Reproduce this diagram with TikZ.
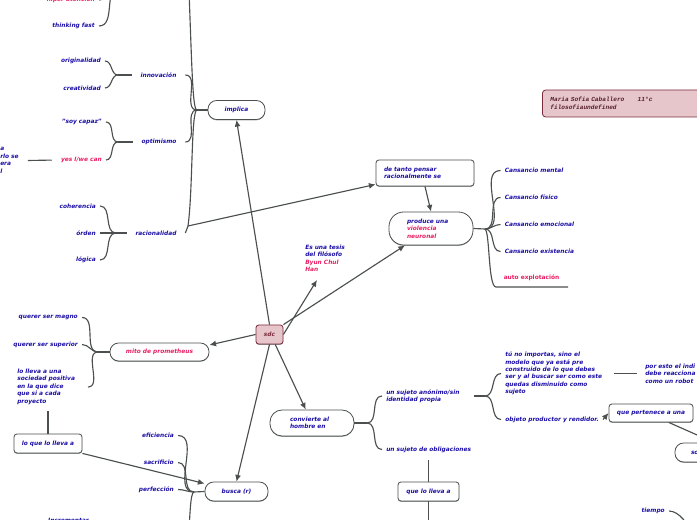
\documentclass[tikz,border=0pt]{standalone}
\usepackage{fontspec}
\setmainfont{DejaVu Sans}
\newfontfamily\notefont{Liberation Mono}
\usetikzlibrary{arrows.meta,shadows}
\definecolor{bluetxt}{HTML}{1B0EA5}
\definecolor{pinktxt}{HTML}{EA1E63}
\definecolor{linecol}{HTML}{4B4F4F}
\definecolor{rosefill}{HTML}{E6C6CB}
\definecolor{roseline}{HTML}{7B2B3B}
\tikzset{
  lbl/.style={font=\fontsize{4.4}{5.6}\selectfont\bfseries\itshape,text=bluetxt,inner xsep=3pt,inner ysep=1pt,align=left},
  pinklbl/.style={lbl,text=pinktxt},
  parentlbl/.style={lbl,inner xsep=6.5pt},
  boxed/.style={lbl,draw=linecol,fill=white,line width=.6pt,drop shadow={shadow xshift=0pt,shadow yshift=-.6pt,fill=linecol!70,opacity=.8}},
  squarebox/.style={boxed,rounded corners=2.2pt},
  roundbox/.style={boxed,rounded corners=6.5pt},
  branch/.style={draw=linecol,line width=.85pt},
  conn/.style={draw=linecol,line width=.85pt,-{Latex[length=5pt,width=4.5pt]}}
}
\begin{document}
\begin{tikzpicture}[x=.75pt,y=-.75pt]
\useasboundingbox (0,0) rectangle (697,520);
\clip (0,0) rectangle (697,520);
% central node
\node[boxed,rounded corners=2pt,draw=roseline,fill=rosefill,text=roseline,minimum width=20.25pt,minimum height=14.25pt,inner sep=0pt,align=center] (sdc) at (269.5,334.5) {sdc};
\node[roundbox,minimum width=42.75pt,minimum height=14.25pt,inner sep=0pt,align=center] (implica) at (236.5,110) {implica};
\node[roundbox,text=pinktxt,minimum width=74.25pt,minimum height=13.5pt,inner sep=0pt,align=center] (mito) at (159.5,352) {mito de prometheus};
\node[roundbox,minimum width=47.25pt,minimum height=14.25pt,inner sep=0pt,align=center] (busca) at (236.5,491.5) {busca (r)};
\node[roundbox,rounded corners=9pt,inner xsep=15pt,text width=33pt,minimum height=19.5pt,inner ysep=0pt] (convierte) at (312,423) {convierte al\\hombre en};
\node[roundbox,rounded corners=11pt,inner xsep=13.5pt,text width=36pt,minimum height=24.75pt,inner ysep=0pt] (produce) at (431,228.5) {produce una\\\textcolor{pinktxt}{violencia}\\\textcolor{pinktxt}{neuronal}};
\node[squarebox,inner xsep=6pt,text width=61.5pt,minimum height=19.5pt,inner ysep=0pt] (tanto) at (425,173) {de tanto pensar\\racionalmente se};
\node[squarebox,minimum width=51pt,minimum height=14.25pt,inner sep=0pt,align=center] (loque) at (48,443.5) {lo que lo lleva a};
\node[squarebox,minimum width=45.75pt,minimum height=14.25pt,inner sep=0pt,align=center] (quelo) at (428.5,491.5) {que lo lleva a};
\node[squarebox,minimum width=63pt,minimum height=13.5pt,inner sep=0pt,align=center] (pertenece) at (651,413) {que pertenece a una};
\node[roundbox,minimum width=67.5pt,minimum height=14.25pt,inner xsep=12pt,inner ysep=0pt,text width=43.5pt] (socied) at (720,452.5) {so};
% note
\node[draw=roseline,fill=rosefill,line width=.6pt,rounded corners=2.5pt,anchor=west,minimum width=150pt,minimum height=20.25pt,inner xsep=6pt,inner ysep=0pt,text width=138pt,align=left,font=\notefont\fontsize{4.6}{6}\selectfont\bfseries\itshape,text=roseline!70!black] (nota) at (542,103.5) {Maria Sofia Caballero\hspace{10pt}11°c\\filosofiaundefined};
% labels left of implica
\node[pinklbl,anchor=east] (hiper) at (99,0) {hiper atención};
\node[lbl,anchor=east] (thinking) at (99,26) {thinking fast};
\node[lbl,anchor=east] (original) at (105,61) {originalidad};
\node[lbl,anchor=east] (creativ) at (105,88) {creatividad};
\node[parentlbl] (innova) at (158.5,75) {innovación};
\node[lbl,anchor=east] (capaz) at (106,122) {"soy capaz"};
\node[pinklbl,anchor=east] (yes) at (106,160) {yes I/we can};
\node[parentlbl] (optimo) at (159,142) {optimismo};
\node[lbl,anchor=west,inner xsep=0pt] (frag) at (0,160.5) {a\\rlo se\\era\\l};
\node[lbl,anchor=east] (coher) at (100,206) {coherencia};
\node[lbl,anchor=east] (orden) at (100,233) {órden};
\node[lbl,anchor=east] (logica) at (100,260) {lógica};
\node[parentlbl] (racio) at (156,233) {racionalidad};
% labels round mito
\node[lbl,anchor=east] (magno) at (82,317.5) {querer ser magno};
\node[lbl,anchor=east] (superior) at (82,344.5) {querer ser superior};
\node[lbl,anchor=west,inner xsep=0pt] (lleva) at (17,386.5) {lo lleva a una\\sociedad positiva\\en la que dice\\que si a cada\\proyecto};
% labels round busca
\node[lbl,anchor=east] (eficien) at (178,435.5) {eficiencia};
\node[lbl,anchor=east] (sacri) at (178,462.5) {sacrificio};
\node[lbl,anchor=east] (perfec) at (178,489.5) {perfección};
\node[lbl,anchor=east] (increm) at (93,520) {Incrementar};
% labels on the right
\node[lbl,anchor=west,inner xsep=0pt] (tesis) at (305,258.5) {Es una tesis\\del filósofo\\\textcolor{pinktxt}{Byun Chul}\\\textcolor{pinktxt}{Han}};
\node[lbl,anchor=west] (mental) at (500.5,170.5) {Cansancio mental};
\node[lbl,anchor=west] (fisico) at (500.5,197.5) {Cansancio físico};
\node[lbl,anchor=west] (emocion) at (500.5,224.5) {Cansancio emocional};
\node[lbl,anchor=west] (exist) at (500.5,251.5) {Cansancio existencia};
\node[pinklbl,anchor=west,font=\fontsize{4.4}{5.6}\selectfont\bfseries] (auto) at (499.5,277.5) {auto explotación};
\node[lbl,anchor=west] (anonimo) at (382,396) {un sujeto anónimo/sin\\identidad propia};
\node[lbl,anchor=west] (obliga) at (382,449.5) {un sujeto de obligaciones};
\node[lbl,anchor=west] (importas) at (501,373.5) {tú no importas, sino el\\modelo que ya está pre\\construido de lo que debes\\ser y al buscar ser como este\\quedas disminuido como\\sujeto};
\node[lbl,anchor=west] (objeto) at (501,419.5) {objeto productor y rendidor.};
\node[lbl,anchor=west,inner xsep=6pt] (robot) at (637,373.5) {por esto el indi\\debe reacciona\\como un robot};
\node[lbl,anchor=east] (tiempo) at (669,511) {tiempo};
% free ends
\coordinate (velocidad) at (187,-60);
\coordinate (topj) at (120,-13);
\coordinate (racioend) at (188,226);
\coordinate (tesisend) at (317,280);
\coordinate (buscaend) at (188,545);
\coordinate (quelofin) at (428.5,530);
\coordinate (autoend) at (568,287);
\coordinate (llevaend) at (88,387);
\coordinate (tiempoj) at (690,535);
% arrows from sdc
\draw[conn] (sdc.north) -- (implica.south);
\draw[conn] (sdc.north east) -- (produce.213);
\draw[conn] (sdc.east) -- (tesisend);
\draw[conn] (sdc.west) -- (mito.8);
\draw[conn] (sdc.south) -- (busca.north);
\draw[conn] (sdc.-60) -- (convierte.115);
\draw[conn] (racioend) -- (tanto.193);
\draw[conn] (tanto.south) -- (produce.north);
\draw[conn] (loque.south east) -- (busca.166);
\draw[conn] (objeto.east) -- (pertenece.west);
% plain lines
\draw[branch,shorten >=3.75pt] (frag.east) ++(9,0) -- (yes.west);
\draw[branch,shorten <=4pt] (lleva.south -| loque.north) -- (loque.north);
\draw[branch,shorten <=4.5pt] (obliga.south -| quelo.north) -- (quelo.north);
\draw[branch] (quelo.south) -- (quelofin);
\draw[branch] (importas.east) ++(8,0) -- (robot.west);
\draw[branch] (pertenece.-28) -- (socied.120);
% brackets
\coordinate (impj) at (197,110);
\draw[branch] (implica.west) -- (impj);
\foreach \k in {innova,optimo} \draw[branch] (impj) to[out=180,in=0] (\k.east);
\draw[branch] (impj) .. controls (192,110) and (192,60) .. (velocidad);
\draw[branch] (impj) .. controls (191,110) and (193,190) .. (racioend) -- (racio.east);
\foreach \k in {hiper,thinking} \draw[branch] (topj) to[out=180,in=0] (\k.east);
\coordinate (innj) at (118,75);
\draw[branch] (innova.west) -- (innj);
\foreach \k in {original,creativ} \draw[branch] (innj) to[out=180,in=0] (\k.east);
\coordinate (optj) at (118,142);
\draw[branch] (optimo.west) -- (optj);
\foreach \k in {capaz,yes} \draw[branch] (optj) to[out=180,in=0] (\k.east);
\coordinate (racj) at (116,233);
\draw[branch] (racio.west) -- (orden.east);
\foreach \k in {coher,logica} \draw[branch] (racj) to[out=180,in=0] (\k.east);
\coordinate (mitj) at (98,352);
\draw[branch] (mito.west) -- (mitj);
\foreach \k in {magno,superior} \draw[branch] (mitj) to[out=180,in=0] (\k.east);
\draw[branch] (mitj) to[out=180,in=0] (llevaend);
\coordinate (busj) at (194,492);
\draw[branch] (busca.west) -- (busj);
\foreach \k in {eficien,sacri,perfec} \draw[branch] (busj) to[out=180,in=0] (\k.east);
\draw[branch] (busj) .. controls (190,492) and (190,520) .. (buscaend);
\coordinate (proj) at (485,229);
\draw[branch] (produce.east) -- (proj);
\foreach \k in {mental,fisico,emocion,exist} \draw[branch] (proj) to[out=0,in=180] (\k.west);
\draw[branch] (proj) .. controls (490,232) and (488,287) .. (496,287) -- (autoend);
\coordinate (conj) at (367,423);
\draw[branch] (convierte.east) -- (conj);
\foreach \k in {anonimo,obliga} \draw[branch] (conj) to[out=0,in=180] (\k.west);
\coordinate (anoj) at (485,396);
\draw[branch] (anonimo.east) ++(10,0) -- (anoj);
\foreach \k in {importas,objeto} \draw[branch] (anoj) to[out=0,in=180] (\k.west);
\draw[branch] (tiempo.east) to[out=0,in=90,looseness=.8] (tiempoj);
\end{tikzpicture}
\end{document}
